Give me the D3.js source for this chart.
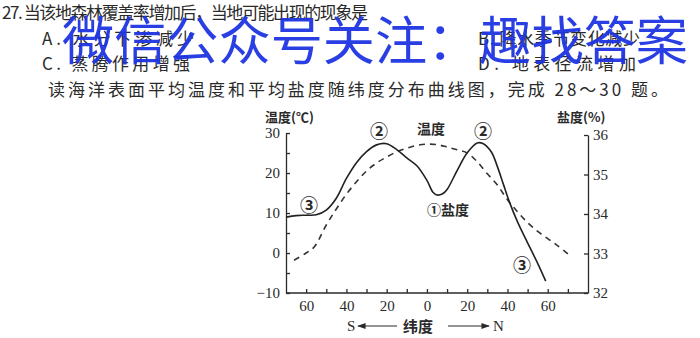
<!DOCTYPE html>
<html>
<head>
<meta charset="utf-8">
<script src="https://cdn.jsdelivr.net/npm/d3@7"></script>
<style>
  body { margin: 0; background: #fff; }
  svg { display: block; }
</style>
</head>
<body>
<div class="canvas"></div>
<script>
// latitude (S negative) vs salinity, solid line
const salLat = [-70, -65, -60, -55, -50, -45, -40, -35, -30, -25, -20, -15, -10, -5, 0, 3, 5, 8, 10, 15, 20, 25, 28, 32, 35, 38, 41, 45, 50, 55, 59];
const salVal = [33.92, 33.96, 33.97, 33.98, 34.1, 34.4, 34.9, 35.3, 35.58, 35.75, 35.78, 35.63, 35.42, 35.22, 34.85, 34.55, 34.48, 34.52, 34.62, 35.1, 35.55, 35.8, 35.78, 35.57, 35.2, 34.75, 34.3, 33.8, 33.27, 32.75, 32.3];

// latitude vs temperature, dashed line
const tmpLat = [-66, -60, -56, -50, -45, -40, -35, -30, -25, -20, -15, -10, -5, 0, 5, 10, 15, 20, 25, 30, 35, 40, 45, 50, 55, 60, 65, 70];
const tmpVal = [-1.8, 0, 1.5, 7, 11, 14.7, 17.8, 20.5, 22.5, 24, 25.3, 26.2, 26.9, 27.2, 27.1, 26.5, 25.8, 25, 22.8, 19.8, 17, 13.3, 10.3, 7.6, 5.4, 3.6, 1.8, -0.2];

const xTicks = [-60, -50, -40, -30, -20, -10, 0, 10, 20, 30, 40, 50, 60, 70];
const tTicks = [-10, -5, 0, 5, 10, 15, 20, 25, 30];
const sTicks = [32, 33, 34, 35, 36];

const SERIF = '"Liberation Serif", "DejaVu Serif", serif';
const CJK = '"Noto Sans CJK SC", sans-serif';
const INK = '#2a2a2a';

const width = 700, height = 338;
const svg = d3.select('.canvas')
    .append('svg')
    .attr('width', width)
    .attr('height', height);

// question text above the chart
const lines = [
    { t: '27. 当该地森林覆盖率增加后，当地可能出现的现象是', x: 2, y: 19, len: 366 },
    { t: 'A. 水分下渗减少', x: 42, y: 45, len: 152 },
    { t: 'B. 降水季节变化减少', x: 478, y: 45, len: 162 },
    { t: 'C. 蒸腾作用增强', x: 42, y: 70, len: 148 },
    { t: 'D. 地表径流增加', x: 478, y: 70, len: 158 },
    { t: '读海洋表面平均温度和平均盐度随纬度分布曲线图，完成 28～30 题。', x: 48, y: 96, len: 620 }
];
svg.selectAll('.qline')
    .data(lines)
    .enter()
    .append('text')
    .attr('class', 'qline')
    .attr('x', d => d.x)
    .attr('y', d => d.y)
    .style('font-family', CJK)
    .style('font-size', '17px')
    .attr('fill', INK)
    .attr('textLength', d => d.len)
    .attr('lengthAdjust', 'spacing')
    .text(d => d.t);

// scales
const x = d3.scaleLinear().domain([-70, 80]).range([286, 588]);
const yT = d3.scaleLinear().domain([-10, 30]).range([293, 133]);
const yS = d3.scaleLinear().domain([32, 36]).range([293, 135]);

const xAxis = d3.axisBottom(x)
    .tickValues(xTicks)
    .tickSizeInner(-4)
    .tickSizeOuter(0)
    .tickPadding(7)
    .tickFormat(d => d % 20 === 0 && Math.abs(d) <= 60 ? Math.abs(d) : '');

const gx = svg.append('g')
    .attr('transform', `translate(0, ${yT(-10)})`)
    .call(xAxis);
gx.select('.domain').attr('d', `M${x(-70)},0H${x(80)}`);

const gl = svg.append('g')
    .attr('transform', `translate(${x(-70)}, 0)`)
    .call(d3.axisLeft(yT)
        .tickValues(tTicks)
        .tickSizeInner(-4)
        .tickSizeOuter(0)
        .tickPadding(6)
        .tickFormat(d => d % 10 === 0 ? (d < 0 ? '−' + (-d) : d) : ''));

const gr = svg.append('g')
    .attr('transform', `translate(${x(80)}, 0)`)
    .call(d3.axisRight(yS)
        .tickValues(sTicks)
        .tickSizeInner(-4)
        .tickSizeOuter(0)
        .tickPadding(5)
        .tickFormat(d3.format('d')));

[gx, gl, gr].forEach(g => {
    g.attr('font-family', null).attr('font-size', null);
    g.selectAll('path, line').attr('stroke', INK).attr('stroke-width', 1.3);
    g.selectAll('text')
        .style('font-family', SERIF)
        .style('font-size', '15px')
        .attr('fill', INK);
});

// curves
const line = d3.line().curve(d3.curveCatmullRom.alpha(0.5));

svg.append('path')
    .attr('d', line(tmpLat.map((d, i) => [x(d), yT(tmpVal[i])])))
    .attr('fill', 'none')
    .attr('stroke', '#333')
    .attr('stroke-width', 1.6)
    .attr('stroke-dasharray', '6,5');

svg.append('path')
    .attr('d', line(salLat.map((d, i) => [x(d), yS(salVal[i])])))
    .attr('fill', 'none')
    .attr('stroke', '#222')
    .attr('stroke-width', 1.6);

// chart labels
const labels = [
    { t: '温度(℃)', x: 265, y: 122, size: 13 },
    { t: '盐度(%)', x: 557, y: 122, size: 13 },
    { t: '温度', x: 417, y: 134, size: 14 },
    { t: '②', x: 370, y: 138, size: 18 },
    { t: '②', x: 474, y: 138, size: 18 },
    { t: '③', x: 300, y: 212, size: 18 },
    { t: '③', x: 513, y: 272, size: 18 },
    { t: '①盐度', x: 427, y: 215, size: 14 },
    { t: 'S', x: 347, y: 331, size: 15, num: true },
    { t: '纬度', x: 403, y: 332, size: 15 },
    { t: 'N', x: 493, y: 331, size: 15, num: true }
];
svg.selectAll('.lbl')
    .data(labels)
    .enter()
    .append('text')
    .attr('class', 'lbl')
    .attr('x', d => d.x)
    .attr('y', d => d.y)
    .style('font-family', d => d.num ? SERIF : CJK)
    .style('font-size', d => d.size + 'px')
    .style('font-weight', d => d.num ? 'normal' : 'bold')
    .attr('fill', INK)
    .text(d => d.t);

// arrows of the latitude label
const defs = svg.append('defs');
defs.append('marker')
    .attr('id', 'ah')
    .attr('viewBox', '0 0 10 10')
    .attr('refX', 9).attr('refY', 5)
    .attr('markerWidth', 7).attr('markerHeight', 7)
    .attr('orient', 'auto')
    .append('path')
    .attr('d', 'M0,1.5L10,5L0,8.5Z')
    .attr('fill', INK);

[[397, 358], [448, 489]].forEach(a => {
    svg.append('line')
        .attr('x1', a[0]).attr('x2', a[1])
        .attr('y1', 326).attr('y2', 326)
        .attr('stroke', INK)
        .attr('stroke-width', 1.2)
        .attr('marker-end', 'url(#ah)');
});

// watermark on top
svg.append('text')
    .attr('x', 62)
    .attr('y', 37)
    .attr('dominant-baseline', 'central')
    .style('font-family', CJK)
    .style('font-size', '52px')
    .attr('fill', '#1e34e2')
    .attr('fill-opacity', 0.95)
    .attr('textLength', 626)
    .attr('lengthAdjust', 'spacingAndGlyphs')
    .text('微信公众号关注：趣找答案');
</script>
</body>
</html>
